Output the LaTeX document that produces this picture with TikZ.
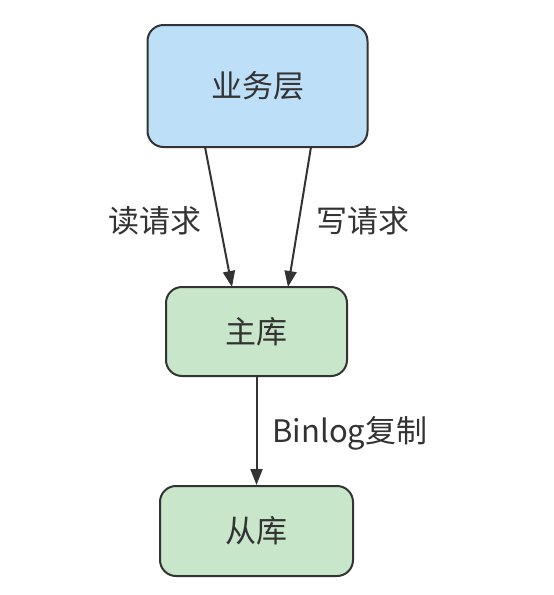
\documentclass[tikz,border=0pt]{standalone}
\usepackage{fontspec}
\setmainfont{Noto Sans CJK SC}
\usetikzlibrary{arrows.meta}
\definecolor{bluefill}{HTML}{BDDFF8}
\definecolor{greenfill}{HTML}{C8E6C9}
\definecolor{edge}{HTML}{333333}
\tikzset{
  box/.style={draw=edge, line width=2pt, rounded corners=16pt, text=edge, font=\fontsize{31}{34}\selectfont},
  conn/.style={draw=edge, line width=2pt, -{Triangle[length=16pt,width=12pt]}},
  lbl/.style={text=edge, font=\fontsize{31}{34}\selectfont}
}
\begin{document}
\begin{tikzpicture}[x=1pt,y=-1pt]
\useasboundingbox (0,0) rectangle (554,595);
\node[box, fill=bluefill, minimum width=220pt, minimum height=122pt] (biz) at (257.5,86) {业务层};
\node[box, fill=greenfill, minimum width=181pt, minimum height=89pt] (master) at (256.5,331.5) {主库};
\node[box, fill=greenfill, minimum width=193pt, minimum height=90pt] (slave) at (256.5,531) {从库};
\coordinate (a1) at (205,147);
\coordinate (a2) at (232,287);
\coordinate (b1) at (311,147);
\coordinate (b2) at (288,287);
\draw[conn] (a1) -- (a2);
\draw[conn] (b1) -- (b2);
\draw[conn] (master.south) -- (slave.north);
\node[lbl] (rd) at (155,221) {读请求};
\node[lbl] (wr) at (363,221) {写请求};
\node[lbl, anchor=west] (bl) at (269,433) {Binlog复制};
\end{tikzpicture}
\end{document}
